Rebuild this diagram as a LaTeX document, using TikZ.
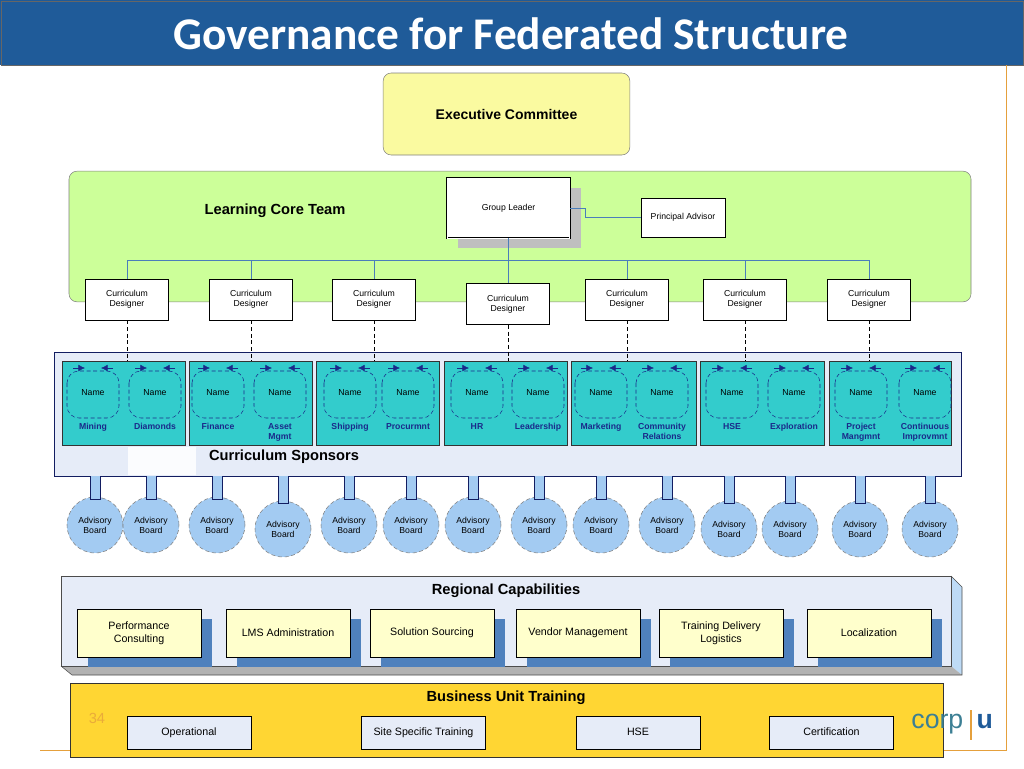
\documentclass[tikz,border=0pt]{standalone}
\usepackage{fontspec}
\setmainfont{Liberation Sans}
\newfontfamily\titlefont{Carlito}
\usetikzlibrary{arrows.meta}
\definecolor{titleblue}{HTML}{1F5B99}
\definecolor{orangeln}{HTML}{E5A03C}
\definecolor{execy}{HTML}{FAFAA0}
\definecolor{lgreen}{HTML}{CCFF99}
\definecolor{treeblue}{HTML}{4A7EBB}
\definecolor{panel}{HTML}{E6ECF8}
\definecolor{teal}{HTML}{33CCCC}
\definecolor{navy}{HTML}{1A2A8A}
\definecolor{advb}{HTML}{A3CBF2}
\definecolor{capy}{HTML}{FFFFCC}
\definecolor{shadowb}{HTML}{4F81BD}
\definecolor{gold}{HTML}{FFD633}
\definecolor{logoteal}{HTML}{3C7F94}
\tikzset{
  smalltxt/.style={font=\fontsize{6.5}{7.5}\selectfont, align=center},
  head/.style={font=\bfseries\fontsize{11}{13}\selectfont},
  desbox/.style={draw=black, fill=white, minimum width=62.25pt, minimum height=31pt, smalltxt},
  capbox/.style={draw=black, fill=capy, minimum width=92.5pt, minimum height=36pt, font=\fontsize{8}{9.5}\selectfont, align=center},
  bubox/.style={draw=black, fill=panel, minimum width=93pt, minimum height=24.75pt, font=\fontsize{8}{9.5}\selectfont},
  adv/.style={circle, draw=gray, densely dashed, fill=advb, minimum size=42pt, inner sep=0pt, smalltxt},
  sponlbl/.style={font=\bfseries\fontsize{6.5}{7.5}\selectfont, text=navy, align=center},
}
\begin{document}
\begin{tikzpicture}[x=0.75pt,y=-0.75pt]
\useasboundingbox (0,0) rectangle (1024,768);
% title
\fill[titleblue] (0,0) rectangle (1024,65);
\draw[black!60] (1,1) rectangle (1023,65);
\node[text=white, font=\titlefont\bfseries\fontsize{34}{38}\selectfont] (title) at (511,34) {Governance for Federated Structure};
% orange frame
\draw[orangeln] (1006,65) -- (1006,750) -- (40,750);
% executive
\node[draw=gray, fill=execy, rounded corners=6pt, minimum width=185pt, minimum height=61.5pt, font=\bfseries\fontsize{10.5}{12}\selectfont] (exec) at (506.5,114) {Executive Committee};
% learning core team
\node[draw=gray, fill=lgreen, rounded corners=6pt, minimum width=676.5pt, minimum height=98pt] (lct) at (520,236.5) {};
\node[head] (lctl) at (275,211) {Learning Core Team};
% group leader
\fill[black!25] (458,188) rectangle (581,248);
\node[draw=black, double, fill=white, minimum width=92pt, minimum height=45pt, smalltxt] (gl) at (508.5,208) {Group Leader};
\node[desbox, minimum width=63pt, minimum height=29pt] (pa) at (683,217.5) {Principal Advisor};
\draw[treeblue] (gl.east) -- (585,208) -- (585,217.5) -- (pa.west);
% designers
\foreach \x/\y [count=\i] in {127/299.5,251/299.5,374/299.5,508/304,627/299.5,745/299.5,869/299.5}{
  \node[desbox] (cd\i) at (\x,\y) {Curriculum\\Designer};
}
\coordinate (tj) at (508.5,260);
\draw[treeblue] (gl.south) -- (tj);
\draw[treeblue] (127,260) -- (869,260);
\foreach \i in {1,...,7}{ \draw[treeblue] (cd\i.north |- tj) -- (cd\i.north); }
% sponsors panel
\node[draw=navy!70!black, fill=panel, minimum width=680pt, minimum height=93pt] (sp) at (507.5,414) {};
\fill[white!85!panel] (128,447) rectangle (196,475);
\node[head] (spl) at (284,457) {Curriculum Sponsors};
\foreach \a/\b [count=\i] in {62/185,189/312,316/439,444/567,571/696,700/824,829/951}{
  \node[draw=black!80, fill=teal, minimum width={(\b-\a)*0.75pt}, minimum height=63pt, anchor=north west, inner sep=0pt] (tb\i) at (\a,361) {};
  \draw[densely dashed] (cd\i.south) -- (cd\i.south |- tb\i.north);
}
\foreach \x/\lab in {93/Mining,155/Diamonds,218/Finance,280/{Asset\\Mgmt},350/Shipping,408/Procurmnt,477/HR,538/Leadership,601/Marketing,662/{Community\\Relations},732/HSE,794/Exploration,861/{Project\\Mangmnt},925/{Continuous\\Improvmnt}}{
  \draw[navy, densely dashed, rounded corners=9pt] (\x-26,371) rectangle (\x+26,418);
  \draw[navy, -{Latex[length=5pt,width=5pt]}] (\x-20,368) -- (\x-8,368);
  \draw[navy, -{Latex[length=5pt,width=5pt]}] (\x+20,368) -- (\x+8,368);
  \node[smalltxt] at (\x,393) {Name};
  \node[sponlbl, anchor=north] at (\x,419) {\lab};
}
% advisory boards
\foreach \x/\y [count=\i] in {95/525,151/525,217/525,283/529,349/525,411/525,473/525,539/525,601/525,667/525,729/529,790/529,860/529,930/529}{
  \node[adv] (ab\i) at (\x,\y) {Advisory\\Board};
  \fill[advb] (\x-5,476) rectangle (\x+5,\y-26);
  \draw[navy!70!black] (\x-5,476) -- (\x-5,\y-26) -- (\x+5,\y-26) -- (\x+5,476);
}
% regional capabilities
\fill[advb!70!white] (951,576) -- (962,587) -- (962,675) -- (951,666) -- cycle;
\fill[black!30] (61,666) -- (951,666) -- (962,675) -- (72,675) -- cycle;
\draw[black!70] (951,576) -- (962,587) -- (962,675) -- (72,675) -- (61,666);
\node[draw=black!70, fill=panel, minimum width=667.5pt, minimum height=67.5pt, anchor=north west, inner sep=0pt] (rc) at (61,576) {};
\node[head] (rcl) at (506,591) {Regional Capabilities};
\foreach \a/\t [count=\i] in {77/{Performance\\Consulting},226/{LMS Administration},370/{Solution Sourcing},516/{Vendor Management},659/{Training Delivery\\Logistics},807/{Localization}}{
  \fill[shadowb] (\a+11,619) rectangle (\a+135,667);
  \draw[fill=capy] (\a,609) rectangle (\a+124,657);
  \node[font=\fontsize{8}{9.5}\selectfont, align=center] (cap\i) at (\a+62,633) {\t};
}
% business unit training
\node[draw=black!80, fill=gold, minimum width=654.75pt, minimum height=55.5pt, anchor=north west, inner sep=0pt] (but) at (70,683) {};
\node[head] (butl) at (506,698) {Business Unit Training};
\node[text=orangeln!80!gold, font=\fontsize{11}{13}\selectfont] (pg) at (97,718) {34};
\foreach \x/\t [count=\i] in {189/Operational,423.5/Site Specific Training,638/HSE,831.5/Certification}{
  \node[bubox, text height=7pt, text depth=2pt] (bu\i) at (\x,732.5) {\t};
}
% logo
\node[text=logoteal, font=\fontsize{20}{22}\selectfont, anchor=east] (logo1) at (968,724) {corp};
\draw[orangeln, line width=1pt] (971,710) -- (971,740);
\node[text=titleblue, font=\bfseries\fontsize{20}{22}\selectfont, anchor=west] (logo2) at (972,722) {u};
\end{tikzpicture}
\end{document}
